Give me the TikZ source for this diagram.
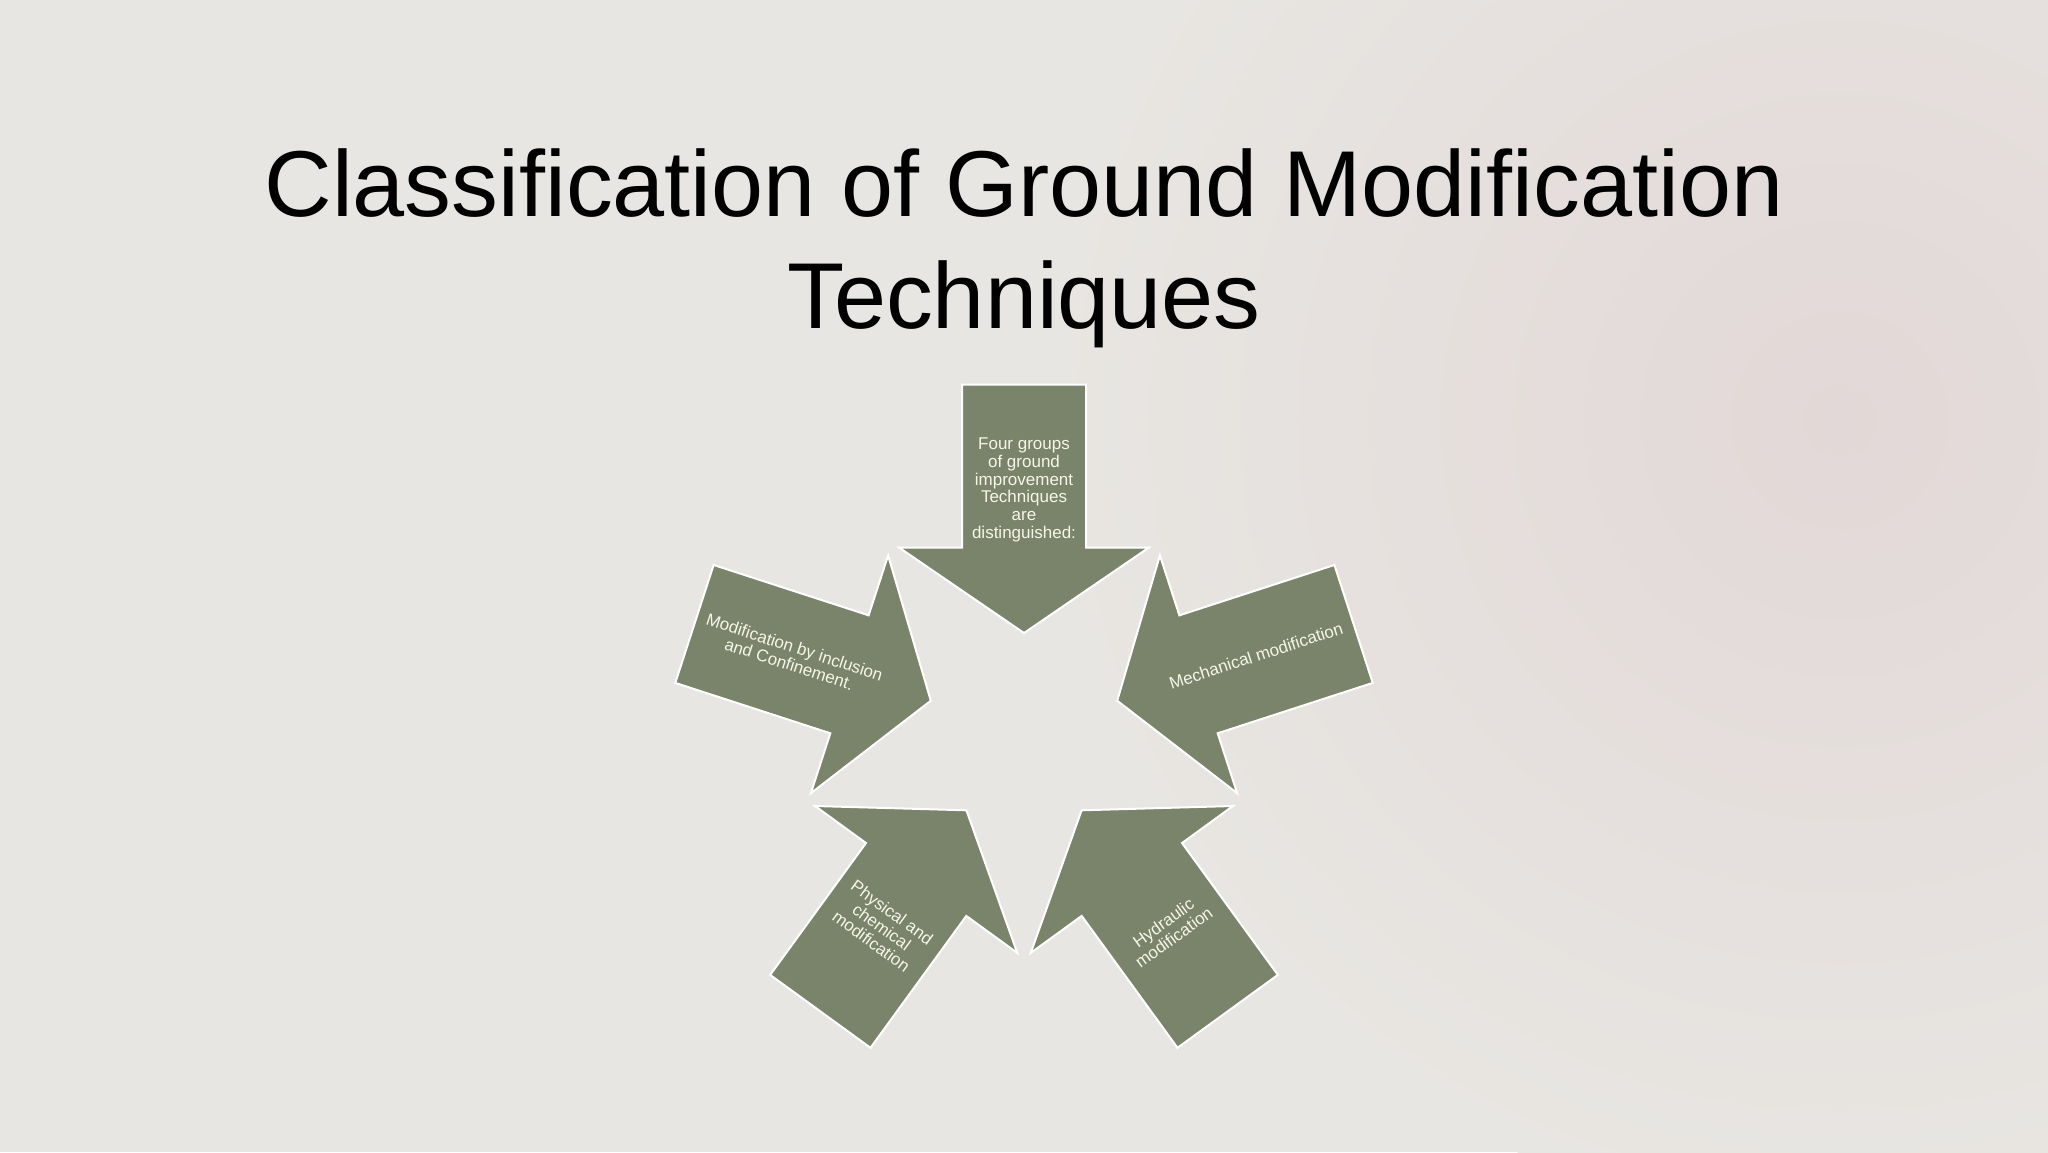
\documentclass[tikz,border=0pt]{standalone}
\usepackage{fontspec}
\setmainfont{Liberation Sans}
\usetikzlibrary{calc}
\definecolor{bgcol}{RGB}{232,230,226}
\definecolor{leafcol}{RGB}{226,216,215}
\definecolor{arrowgreen}{RGB}{121,132,106}
\definecolor{labelcol}{RGB}{246,245,233}
\tikzset{
  bigarrow/.style={fill=arrowgreen, draw=white, line width=1pt, line join=miter},
  arrowlabel/.style={text=labelcol, align=center, inner sep=0pt,
    font=\fontsize{8.5pt}{8.9pt}\selectfont},
  titletext/.style={text=black, inner sep=0pt, anchor=base,
    font=\fontsize{46.8pt}{56pt}\selectfont}
}
\newcommand{\arrowpoly}{(49pt,0pt) -- (91.75pt,62.5pt) -- (91.75pt,31pt) -- (173.25pt,31pt) -- (173.25pt,-31pt) -- (91.75pt,-31pt) -- (91.75pt,-62.5pt) -- cycle}
\begin{document}
\begin{tikzpicture}[x=0.5pt,y=-0.5pt]
  % background
  \fill[bgcol] (0,0) rectangle (2048,1152);
  \useasboundingbox (0,0) rectangle (2048,1152);
  \begin{scope}
    \clip (0,0) rectangle (2048,1152);
    \shade[inner color=leafcol, outer color=bgcol] (1840,420) circle (400pt);
  \end{scope}

  % title
  \node[titletext] (title1) at (1024,216) {Classification of Ground Modification};
  \node[titletext] (title2) at (1024,328) {Techniques};

  % centre of the converging arrows
  \coordinate (C) at (1024,731);

  % arrows (drawn in local frame, back direction given by rotation)
  \begin{scope}[shift={(C)}, rotate=90]
    \path[bigarrow] \arrowpoly;
  \end{scope}
  \begin{scope}[shift={(C)}, rotate=162]
    \path[bigarrow] \arrowpoly;
  \end{scope}
  \begin{scope}[shift={(C)}, rotate=18]
    \path[bigarrow] \arrowpoly;
  \end{scope}
  \begin{scope}[shift={(C)}, rotate=234]
    \path[bigarrow] \arrowpoly;
  \end{scope}
  \begin{scope}[shift={(C)}, rotate=306]
    \path[bigarrow] \arrowpoly;
  \end{scope}

  % labels
  \node[arrowlabel] (top) at ($(C)+(90:120.5pt)$)
    {Four groups\\of ground\\improvement\\Techniques\\are\\distinguished:};
  \node[arrowlabel, rotate=-18] (left) at ($(C)+(162:122pt)$)
    {Modification by inclusion\\and Confinement.};
  \node[arrowlabel, rotate=18] (right) at ($(C)+(18:122pt)$)
    {Mechanical modification};
  \node[arrowlabel, rotate=-36] (botleft) at ($(C)+(234:121pt)$)
    {Physical and\\chemical\\modification};
  \node[arrowlabel, rotate=36] (botright) at ($(C)+(306:123pt)$)
    {Hydraulic\\modification};
\end{tikzpicture}
\end{document}
